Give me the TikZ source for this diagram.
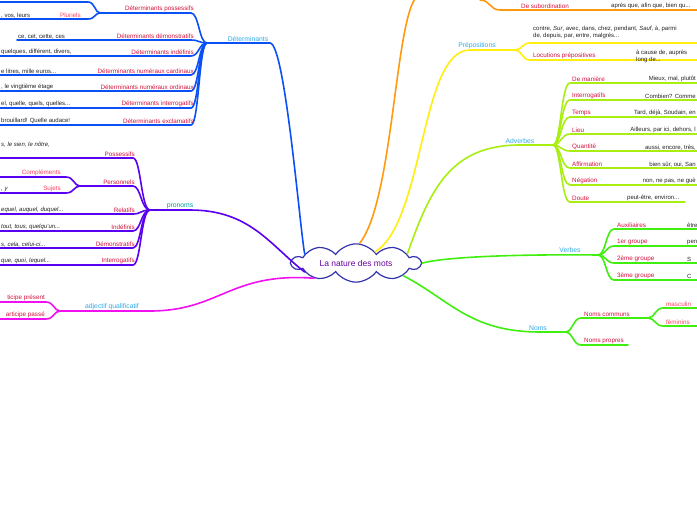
\documentclass[tikz,border=0pt]{standalone}
\usepackage{fontspec}
\setmainfont{Liberation Sans}
\usetikzlibrary{shapes.symbols}
\definecolor{cdet}{HTML}{0A50F5}
\definecolor{cpro}{HTML}{5A00F0}
\definecolor{cadj}{HTML}{F010F0}
\definecolor{ccon}{HTML}{FF9A10}
\definecolor{cpre}{HTML}{FFEE10}
\definecolor{cadv}{HTML}{A8EE10}
\definecolor{cver}{HTML}{40EE10}
\definecolor{lab}{HTML}{D4103A}
\definecolor{sublab}{HTML}{FF4060}
\definecolor{mainlab}{HTML}{30A8E8}
\definecolor{txt}{HTML}{222222}
\tikzset{
  br/.style={line width=1.6pt,line cap=round},
  lb/.style={font=\fontsize{6.3}{7}\selectfont,text=lab,inner sep=1pt},
  slb/.style={font=\fontsize{6.3}{7}\selectfont,text=sublab,inner sep=1pt},
  mlb/.style={font=\fontsize{6.8}{8}\selectfont,text=mainlab,inner sep=1pt},
  tx/.style={font=\fontsize{6}{7}\selectfont,text=txt,inner sep=1pt},
}
\begin{document}
\begin{tikzpicture}[x=1pt,y=-1pt]
\useasboundingbox (0,0) rectangle (697,520);
% cloud
\node[cloud,cloud puffs=10,cloud puff arc=110,aspect=4.5,inner sep=0pt,draw=blue!60!black!80,line width=1.2pt,minimum width=128,minimum height=38,text=violet!80!blue,font=\fontsize{8.5}{9}\selectfont] (c) at (356,263) {La nature des mots};

% ---------- Determinants
\coordinate (dh) at (207,43);
\draw[br,cdet] (c.170) .. controls (300,230) and (285,43) .. (270,43) -- (dh);
\node[mlb,anchor=south] (dl) at (248,43) {Déterminants};
\foreach \y/\lab/\txt/\xs in {
  40/Déterminants démonstratifs/{ce, cet, cette, ces}/17,
  56/Déterminants indéfinis/{quelques, différent, divers,}/0,
  75/Déterminants numéraux cardinaux/{e litres, mille euros...}/0,
  91/Déterminants numéraux ordinaux/{, le vingtième étage}/0,
  108/Déterminants interrogatifs/{el, quelle, quels, quelles...}/0,
  125/Déterminants exclamatifs/{brouillard! Quelle audace!}/0}{
  \draw[br,cdet] (dh) .. controls (199,43) and (199,\y) .. (191,\y) -- (\xs,\y);
  \node[lb,anchor=south east] (dlab\y) at (195,\y) {\lab};
  \node[tx,anchor=south west] (dtx\y) at (\xs,\y) {\txt};
}
% possessifs
\coordinate (dp) at (100,13);
\draw[br,cdet] (dh) .. controls (199,43) and (199,13) .. (191,13) -- (dp);
\node[lb,anchor=south east] (dpl) at (195,13) {Déterminants possessifs};
\draw[br,cdet] (dp) .. controls (95,13) and (95,19) .. (88,19) -- (0,19);
\node[slb,anchor=south east] (dpp) at (82,19) {Pluriels};
\node[tx,anchor=south west] (dpt) at (0,19) {, vos, leurs};
\draw[br,cdet] (dp) .. controls (95,13) and (95,2) .. (88,2) -- (0,2);

% ---------- Pronoms
\coordinate (ph) at (150,210);
\draw[br,cpro] (c.190) .. controls (270,245) and (250,210) .. (190,210) -- (ph);
\node[mlb,anchor=south,text=teal!80!cyan] (pl) at (180,210) {pronoms};
\foreach \y/\lab/\txt in {
  158/Possessifs/{},
  214/Relatifs/{equel, auquel, duquel...},
  231/Indéfinis/{tout, tous, quelqu'un...},
  248/Démonstratifs/{s, cela, celui-ci...},
  265/Interrogatifs/{que, quoi, lequel...}}{
  \draw[br,cpro] (ph) .. controls (141,210) and (141,\y) .. (133,\y) -- (0,\y);
  \node[lb,anchor=south east] (plab\y) at (136,\y) {\lab};
  \node[tx,anchor=south west,font=\fontsize{6}{7}\selectfont\itshape] (ptx\y) at (0,\y) {\txt};
}
\node[tx,anchor=west,font=\fontsize{6}{7}\selectfont\itshape] (ppos) at (0,145) {s, le sien, le nôtre,};
\coordinate (pp) at (80,186);
\draw[br,cpro] (ph) .. controls (141,210) and (141,186) .. (133,186) -- (pp);
\node[lb,anchor=south east] (ppl) at (136,186) {Personnels};
\draw[br,cpro] (pp) .. controls (74,186) and (74,177) .. (66,177) -- (0,177);
\draw[br,cpro] (pp) .. controls (74,186) and (74,193) .. (66,193) -- (0,193);
\node[slb,anchor=south east] (pcl) at (62,177) {Compléments};
\node[slb,anchor=south east] (psl) at (62,193) {Sujets};
\node[tx,anchor=south west,font=\fontsize{6}{7}\selectfont\itshape] (pst) at (0,193) {, y};

% ---------- Adjectif
\coordinate (ah) at (60,311);
\draw[br,cadj] (c.200) .. controls (230,272) and (220,311) .. (150,311) -- (ah);
\node[mlb,anchor=south] (al) at (112,311) {adjectif qualificatif};
\draw[br,cadj] (ah) .. controls (54,311) and (54,302) .. (46,302) -- (0,302);
\draw[br,cadj] (ah) .. controls (54,311) and (54,319) .. (46,319) -- (0,319);
\node[lb,anchor=south east] (a1) at (46,302) {ticipe présent};
\node[lb,anchor=south east] (a2) at (46,319) {articipe passé};

% ---------- Conjonctions
\draw[br,ccon] (c.80) .. controls (395,200) and (395,0) .. (420,-5);
\coordinate (ch) at (480,0);
\draw[br,ccon] (ch) .. controls (490,0) and (490,10) .. (500,10) -- (697,10);
\node[lb,anchor=south west] (cl) at (520,10) {De subordination};
\node[tx,anchor=south west] (ct) at (610,10) {après que, afin que, bien qu...};

% ---------- Prepositions
\coordinate (prh) at (515,50);
\draw[br,cpre] (c.30) .. controls (425,220) and (420,50) .. (470,50) -- (prh);
\node[mlb,anchor=south] (prl) at (477,50) {Prépositions};
\draw[br,cpre] (prh) .. controls (522,50) and (522,43) .. (530,43) -- (697,43);
\draw[br,cpre] (prh) .. controls (522,50) and (522,60) .. (530,60) -- (697,60);
\node[tx,anchor=north west,align=left] (prt) at (532,25) {contre, \textit{Sur}, avec, dans, chez, pendant, \textit{Sauf}, à, parmi\\de, depuis, par, entre, malgrés...};
\node[lb,anchor=south west] (prlo) at (532,60) {Locutions prépositives};
\node[tx,anchor=north west,align=left] (prlt) at (635,49) {à cause de, auprès\\long de...};

% ---------- Adverbes
\coordinate (avh) at (553,145);
\draw[br,cadv] (c.10) .. controls (430,190) and (450,145) .. (520,145) -- (avh);
\node[mlb,anchor=south] (avl) at (520,145) {Adverbes};
\foreach \y/\lab/\xe in {
  83/De manière/697,
  100/Interrogatifs/697,
  117/Temps/697,
  134/Lieu/697,
  151/Quantité/697,
  168/Affirmation/697,
  185/Négation/697,
  202/Doute/685}{
  \draw[br,cadv] (avh) .. controls (561,145) and (561,\y) .. (570,\y) -- (\xe,\y);
  \node[lb,anchor=south west] (avlab\y) at (571,\y) {\lab};
}
\foreach \y/\txt in {83/{Mieux, mal, plutôt},100/{Combien? Comme},117/{Tard, déjà, Soudain, en},134/{Ailleurs, par ici, dehors, l},151/{aussi, encore, très,},168/{bien sûr, oui, San},185/{non, ne pas, ne guè}}{
  \node[tx,anchor=south east] (avt\y) at (697,\y) {\txt};
}
\node[tx,anchor=south west] (avtd) at (626,202) {peut-être, environ...};

% ---------- Verbes
\coordinate (vh) at (598,255);
\draw[br,cver] (c.east) .. controls (440,258) and (500,254) .. (vh);
\node[mlb,anchor=south] (vl) at (570,254) {Verbes};
\foreach \y/\lab/\txt in {229/Auxiliaires/être,246/1er groupe/pen,263/2ème groupe/S,280/3ème groupe/C}{
  \draw[br,cver] (vh) .. controls (606,255) and (606,\y) .. (614,\y) -- (697,\y);
  \node[lb,anchor=south west] (vlab\y) at (616,\y) {\lab};
  \node[tx,anchor=south west] (vt\y) at (686,\y) {\txt};
}

% ---------- Noms
\coordinate (nh) at (565,332);
\draw[br,cver] (c.-15) .. controls (450,300) and (470,332) .. (540,332) -- (nh);
\node[mlb,anchor=south] (nl) at (538,332) {Noms};
\coordinate (nc) at (648,318);
\draw[br,cver] (nh) .. controls (573,332) and (573,318) .. (581,318) -- (nc);
\node[lb,anchor=south west] (ncl) at (583,318) {Noms communs};
\draw[br,cver] (nh) .. controls (573,332) and (573,345) .. (581,345) -- (628,345);
\node[lb,anchor=south west] (npl) at (583,345) {Noms propres};
\draw[br,cver] (nc) .. controls (655,318) and (655,308) .. (663,308) -- (697,308);
\draw[br,cver] (nc) .. controls (655,318) and (655,326) .. (663,326) -- (697,326);
\node[slb,anchor=south west] (nm) at (665,308) {masculin};
\node[slb,anchor=south west] (nf) at (665,326) {féminins};
\end{tikzpicture}
\end{document}
